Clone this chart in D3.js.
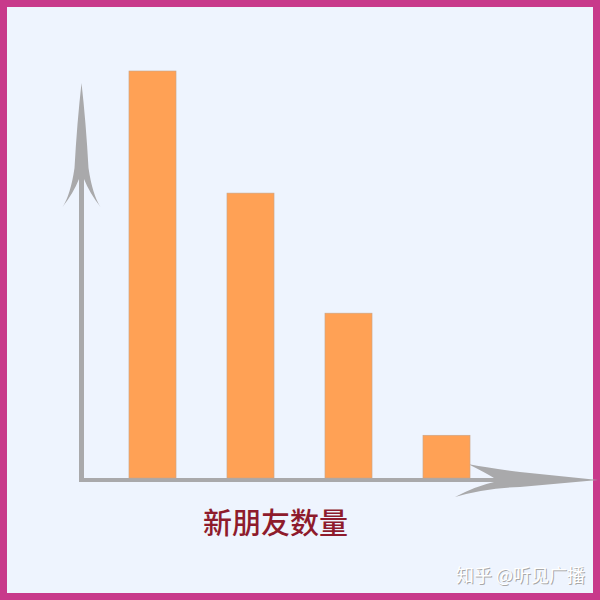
<!DOCTYPE html>
<html><head><meta charset="utf-8">
<script src="https://cdn.jsdelivr.net/npm/d3@7"></script>
<style>html,body{margin:0;padding:0;background:#fff;}svg{display:block;}</style>
</head><body>
<svg id="c" width="600" height="600"></svg>
<script>
const categories = ["1", "2", "3", "4"];
const values = [100, 70, 40.5, 10.5];
const axisTitle = "新朋友数量";
const watermark = "知乎 @听见广播";

const svg = d3.select("#c");
svg.append("rect").attr("x",0).attr("y",0).attr("width",600).attr("height",600).attr("fill","#C83A8B");
svg.append("rect").attr("x",7).attr("y",7).attr("width",586).attr("height",586).attr("fill","#EEF4FE");

const x = d3.scaleBand().domain(categories).range([103.5, 495.5]).paddingInner(0.52).paddingOuter(0.26);
const y = d3.scaleLinear().domain([0, 100]).range([478, 71]);

const gray = "#A9A9AB";
const ax = 81.5, ay = 480;
// axes shafts
svg.append("line").attr("x1",ax).attr("y1",ay+2).attr("x2",ax).attr("y2",150).attr("stroke",gray).attr("stroke-width",5);
svg.append("line").attr("x1",ax-2.5).attr("y1",ay).attr("x2",520).attr("y2",ay).attr("stroke",gray).attr("stroke-width",4);
// vertical arrowhead
const tY = 83;
svg.append("path").attr("fill",gray).attr("d",
  `M${ax},${tY} Q${ax-4.5},${tY+40} ${ax-7},${tY+85} Q${ax-11},${tY+112} ${ax-19},${tY+124} Q${ax-8},${tY+110} ${ax-2.5},${tY+96} L${ax+2.5},${tY+96} Q${ax+8},${tY+110} ${ax+19},${tY+124} Q${ax+11},${tY+112} ${ax+7},${tY+85} Q${ax+4.5},${tY+40} ${ax},${tY} Z`);
// horizontal arrowhead
const tX = 598;
svg.append("path").attr("fill",gray).attr("d",
  `M${tX},${ay} L${tX-78},${ay-8} Q${tX-110},${ay-12} ${tX-130},${ay-16} Q${tX-112},${ay-7} ${tX-104},${ay-2} L${tX-104},${ay+2} Q${tX-122},${ay+6} ${tX-143},${ay+17} Q${tX-112},${ay+8} ${tX-78},${ay+7} Z`);

svg.selectAll("rect.bar").data(values).join("rect").attr("class","bar")
  .attr("x",(d,i)=>x(categories[i])).attr("width",x.bandwidth())
  .attr("y",d=>y(d)).attr("height",d=>y(0)-y(d))
  .attr("fill","#FFA155").attr("stroke","#C8A58A").attr("stroke-width",0.6);

svg.append("text").attr("x",275.5).attr("y",533.5).attr("text-anchor","middle")
  .attr("font-family","Noto Sans CJK SC").attr("font-weight",500).attr("font-size",29)
  .attr("fill","#8E1B2C").text(axisTitle);

svg.append("text").attr("x",521.5).attr("y",582.5).attr("text-anchor","middle")
  .attr("font-family","Noto Sans CJK SC").attr("font-size",18)
  .attr("fill","#A8A8A8").text(watermark);
svg.append("text").attr("x",520.5).attr("y",581.5).attr("text-anchor","middle")
  .attr("font-family","Noto Sans CJK SC").attr("font-size",18)
  .attr("fill","#FFFFFF").text(watermark);
</script>
</body></html>
